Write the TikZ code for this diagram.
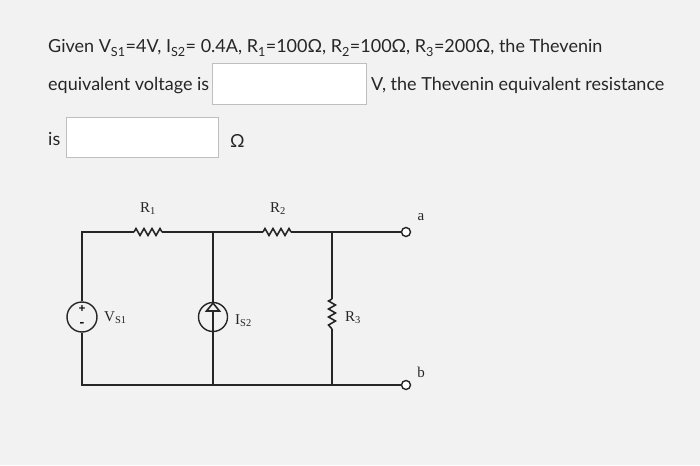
\documentclass[tikz,border=0pt]{standalone}
\usepackage{fontspec}
\setmainfont{Lato}
\newfontfamily\ckt{Liberation Serif}
\usetikzlibrary{arrows.meta}
\begin{document}
\begin{tikzpicture}[x=1pt,y=-1pt,
  wire/.style={line width=1.6pt,draw=black!85},
  ansbox/.style={draw=black!25,line width=0.8pt,fill=white},
  qtext/.style={anchor=base west,inner sep=0,font=\fontsize{18}{21}\selectfont,text=black!85},
  lbl/.style={inner sep=0,font=\ckt\fontsize{15}{16}\selectfont,text=black!85},
  term/.style={circle,draw=black!85,line width=1.4pt,fill=white,minimum size=9pt,inner sep=0}]
\fill[black!5] (0,0) rectangle (700,465);
\useasboundingbox (0,0) rectangle (700,465);
% question text
\node[qtext] (t1) at (48,53) {Given V\textsubscript{S1}=4V, I\textsubscript{S2}= 0.4A, R\textsubscript{1}=100Ω, R\textsubscript{2}=100Ω, R\textsubscript{3}=200Ω, the Thevenin};
\node[qtext] (t2) at (48,91) {equivalent voltage is};
\node[ansbox,minimum width=154pt,minimum height=41pt,anchor=north west] (b1) at (212,63) {};
\node[qtext] (t3) at (371,91) {V, the Thevenin equivalent resistance};
\node[qtext] (t4) at (48,146) {is};
\node[ansbox,minimum width=152pt,minimum height=40pt,anchor=north west] (b2) at (66,117) {};
\node[qtext] (t5) at (230,147) {Ω};
% circuit nodes
\coordinate (tl) at (82,232);
\coordinate (tm) at (213,232);
\coordinate (tr) at (332,232);
\coordinate (bl) at (82,385);
\coordinate (bm) at (213,385);
\coordinate (br) at (332,385);
\node[term] (a) at (406,232) {};
\node[term] (b) at (406,385) {};
\node[circle,draw=black!85,line width=1.4pt,minimum size=30pt,inner sep=0] (vs) at (82,317) {};
\node[circle,draw=black!85,line width=1.4pt,minimum size=29pt,inner sep=0] (is) at (213,317) {};
\coordinate (r1a) at (134,232); \coordinate (r1b) at (162,232);
\coordinate (r2a) at (263,232); \coordinate (r2b) at (291,232);
\coordinate (r3a) at (332,299); \coordinate (r3b) at (332,329);
% wires
\draw[wire] (vs.north) -- (tl) -- (r1a);
\draw[wire] (r1a) -- ++(2,-3.5) -- ++(4,7) -- ++(4,-7) -- ++(4,7) -- ++(4,-7) -- ++(4,7) -- ++(4,-7) -- (r1b);
\draw[wire] (r1b) -- (tm) -- (r2a);
\draw[wire] (r2a) -- ++(2,-3.5) -- ++(4,7) -- ++(4,-7) -- ++(4,7) -- ++(4,-7) -- ++(4,7) -- ++(4,-7) -- (r2b);
\draw[wire] (r2b) -- (tr) -- (a);
\draw[wire] (tr) -- (r3a);
\draw[wire] (r3a) -- ++(-3.5,2) -- ++(7,4) -- ++(-7,4) -- ++(7,4) -- ++(-7,4) -- ++(7,4) -- ++(-7,4) -- (r3b);
\draw[wire] (r3b) -- (br);
\draw[wire] (vs.south) -- (bl) -- (b);
\draw[wire] (tm) -- (is.north);
\draw[wire] (is.south) -- (bm);
\draw[wire,-{Triangle[open,length=10pt,width=16pt]}] (is.south) -- (is.north);
% source signs
\node[inner sep=0,font=\bfseries\fontsize{12}{12}\selectfont] (plus) at (82,309) {+};
\node[inner sep=0,font=\bfseries\fontsize{14}{14}\selectfont] (minus) at (82,325) {-};
% labels
\node[lbl] (lr1) at (148,209) {R\textsubscript{1}};
\node[lbl] (lr2) at (278,209) {R\textsubscript{2}};
\node[lbl,anchor=west] (lr3) at (345,318) {R\textsubscript{3}};
\node[lbl,anchor=west] (lvs) at (104,318) {V\textsubscript{S1}};
\node[lbl,anchor=west] (lis) at (235,321) {I\textsubscript{S2}};
\node[lbl] (la) at (421,217) {a};
\node[lbl] (lb) at (421,372) {b};
\end{tikzpicture}
\end{document}
